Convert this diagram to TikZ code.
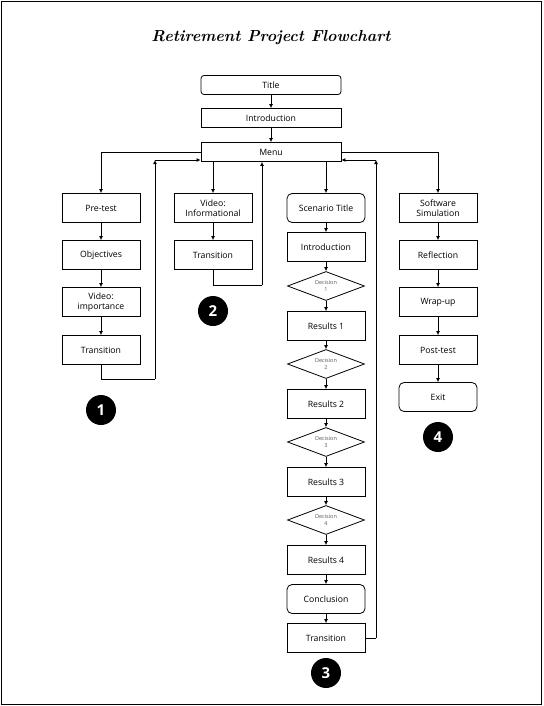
\documentclass[tikz,border=0pt]{standalone}
\usepackage{fontspec}
\setmainfont{Open Sans}
\newfontfamily\titlefont{Latin Modern Roman}
\usetikzlibrary{shapes.geometric,arrows.meta}
\begin{document}
\begin{tikzpicture}[x=1pt,y=-1pt,
  every node/.style={font=\fontsize{8.7}{10.5}\selectfont, align=center, inner sep=0pt},
  box/.style={draw, line width=0.8pt, minimum width=78pt, minimum height=29pt},
  rbox/.style={box, rounded corners=5pt},
  topbox/.style={draw, line width=0.8pt, minimum width=140pt, minimum height=19pt},
  dec/.style={draw, line width=0.8pt, diamond, aspect=2.6, minimum width=77pt, minimum height=29pt,
     font=\fontsize{5.5}{7}\selectfont, text=black!65},
  arr/.style={line width=0.8pt, -{Latex[length=4pt,width=4pt]}},
  ln/.style={line width=0.8pt},
  num/.style={circle, fill=black, minimum size=30pt, text=white, font=\fontsize{15}{15}\selectfont\bfseries}
]
\useasboundingbox (0,0) rectangle (543,706);
\draw[line width=0.8pt] (1,1) rectangle (541,704);
\node (ttl) at (271,38) {\titlefont\itshape\bfseries\fontsize{16}{18}\selectfont Retirement Project Flowchart};

\node[topbox, rounded corners=3pt] (title) at (271,85) {Title};
\node[topbox] (intro) at (271,118) {Introduction};
\node[topbox] (menu) at (271,152) {Menu};

% column 1
\node[box] (pre) at (101,208) {Pre-test};
\node[box] (obj) at (101,255) {Objectives};
\node[box] (vimp) at (101,302) {Video:\\importance};
\node[box] (tr1) at (101,350) {Transition};
% column 2
\node[box] (vinf) at (213,208) {Video:\\Informational};
\node[box] (tr2) at (213,255) {Transition};
% column 3
\node[rbox] (scen) at (326,208) {Scenario Title};
\node[box] (sint) at (326,247) {Introduction};
\node[dec] (d1) at (326,286) {Decision\\1};
\node[box] (r1) at (326,326) {Results 1};
\node[dec] (d2) at (326,364) {Decision\\2};
\node[box] (r2) at (326,404) {Results 2};
\node[dec] (d3) at (326,442) {Decision\\3};
\node[box] (r3) at (326,482) {Results 3};
\node[dec] (d4) at (326,520) {Decision\\4};
\node[box] (r4) at (326,560) {Results 4};
\node[rbox] (conc) at (326,599) {Conclusion};
\node[box] (tr3) at (326,638) {Transition};
% column 4
\node[box] (soft) at (438,208) {Software\\Simulation};
\node[box] (refl) at (438,255) {Reflection};
\node[box] (wrap) at (438,302) {Wrap-up};
\node[box] (post) at (438,350) {Post-test};
\node[rbox] (exit) at (438,397) {Exit};

% numbers
\node[num] (n1) at (101,410) {1};
\node[num] (n2) at (213,311) {2};
\node[num] (n3) at (326,673) {3};
\node[num] (n4) at (438,437) {4};

% connectors
\draw[arr] (title) -- (intro);
\draw[arr] (intro) -- (menu);
\draw[arr] (menu.west) -| (pre.north);
\draw[arr] (pre) -- (obj);
\draw[arr] (obj) -- (vimp);
\draw[arr] (vimp) -- (tr1);
\coordinate (c1a) at (155,379);
\coordinate (c1b) at (155,160);
\draw[ln] (tr1.south) |- (c1a);
\draw[arr] (c1a) -- (c1b);
\draw[arr] (c1b) -- (c1b -| menu.west);

\draw[arr] (menu.south -| vinf.north) -- (vinf.north);
\draw[arr] (vinf) -- (tr2);
\coordinate (c2a) at (262,285);
\draw[ln] (tr2.south) |- (c2a);
\draw[arr] (c2a) -- (c2a |- menu.south);

\draw[arr] (menu.south -| scen.north) -- (scen.north);
\draw[arr] (scen) -- (sint);
\draw[arr] (sint) -- (d1);
\draw[arr] (d1) -- (r1);
\draw[arr] (r1) -- (d2);
\draw[arr] (d2) -- (r2);
\draw[arr] (r2) -- (d3);
\draw[arr] (d3) -- (r3);
\draw[arr] (r3) -- (d4);
\draw[arr] (d4) -- (r4);
\draw[arr] (r4) -- (conc);
\draw[arr] (conc) -- (tr3);
\coordinate (c3a) at (376,638);
\coordinate (c3b) at (376,160);
\draw[ln] (tr3.east) -- (c3a);
\draw[arr] (c3a) -- (c3b);
\draw[arr] (c3b) -- (c3b -| menu.east);

\draw[arr] (menu.east) -| (soft.north);
\draw[arr] (soft) -- (refl);
\draw[arr] (refl) -- (wrap);
\draw[arr] (wrap) -- (post);
\draw[arr] (post) -- (exit);
\end{tikzpicture}
\end{document}
